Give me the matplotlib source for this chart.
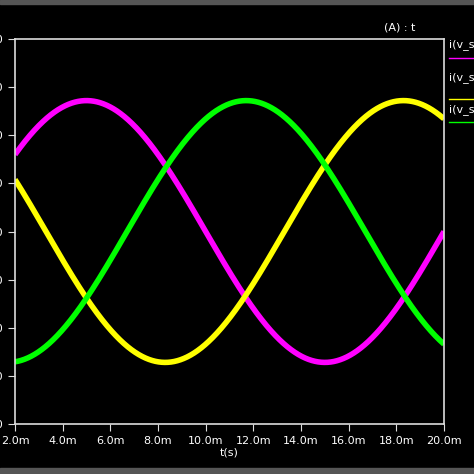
import numpy as np
import matplotlib.pyplot as plt

# phase currents (A): amplitude, time of positive peak (s)
names = ["i(v_sin1)", "i(v_sin2)", "i(v_sin3)"]
colours = ["#ff00ff", "#ffff00", "#00ff00"]
amplitudes = [2.72, 2.72, 2.72]
peak_times = [5.0e-3, 18.3e-3, 11.7e-3]
freq = 50.0

x_ticks = [2e-3, 4e-3, 6e-3, 8e-3, 10e-3, 12e-3, 14e-3, 16e-3, 18e-3, 20e-3]
x_labels = ["2.0m", "4.0m", "6.0m", "8.0m", "10.0m", "12.0m", "14.0m", "16.0m", "18.0m", "20.0m"]
y_ticks = [-4, -3, -2, -1, 0, 1, 2, 3, 4]
y_labels = ["-4.0", "-3.0", "-2.0", "-1.0", "0.0", "1.0", "2.0", "3.0", "4.0"]

fig = plt.figure(figsize=(4.74, 4.74), dpi=100, facecolor="black")
ax = fig.add_axes([15 / 474, 50 / 474, 429 / 474, 385 / 474], facecolor="black")

t = np.linspace(2e-3, 20e-3, 3000)
for name, c, a, tp in zip(names, colours, amplitudes, peak_times):
    ax.plot(t, a * np.cos(2 * np.pi * freq * (t - tp)), color=c, lw=4, solid_capstyle="butt")

ax.set_xlim(2e-3, 20e-3)
ax.set_ylim(-4, 4)
ax.set_xticks(x_ticks)
ax.set_xticklabels(x_labels)
ax.set_yticks(y_ticks)
ax.set_yticklabels(y_labels)
for s in ax.spines.values():
    s.set_color("#dddddd")
    s.set_linewidth(1.2)
ax.tick_params(colors="#dddddd", labelcolor="white", labelsize=8, direction="out", length=5)
ax.set_xlabel("t(s)", color="white", fontsize=8, labelpad=1)

# legend drawn outside to the right
fig.text(384 / 474, 1 - 28 / 474, "(A) : t", color="white", fontsize=8, va="center")
text_y = [45, 78, 110]
line_y = [58, 99, 122]
for name, c, yt, yl in zip(names, colours, text_y, line_y):
    fig.text(449 / 474, 1 - yt / 474, name, color="white", fontsize=8, va="center")
    fig.add_artist(plt.Line2D([449 / 474, 1], [1 - yl / 474] * 2, color=c, lw=1))

# grey border strips
fig.add_artist(plt.Rectangle((0, 1 - 4 / 474), 1, 4 / 474, color="#555555", transform=fig.transFigure))
fig.add_artist(plt.Rectangle((0, 0), 1, 6 / 474, color="#555555", transform=fig.transFigure))

fig.savefig("out.png", dpi=100, facecolor="black")
